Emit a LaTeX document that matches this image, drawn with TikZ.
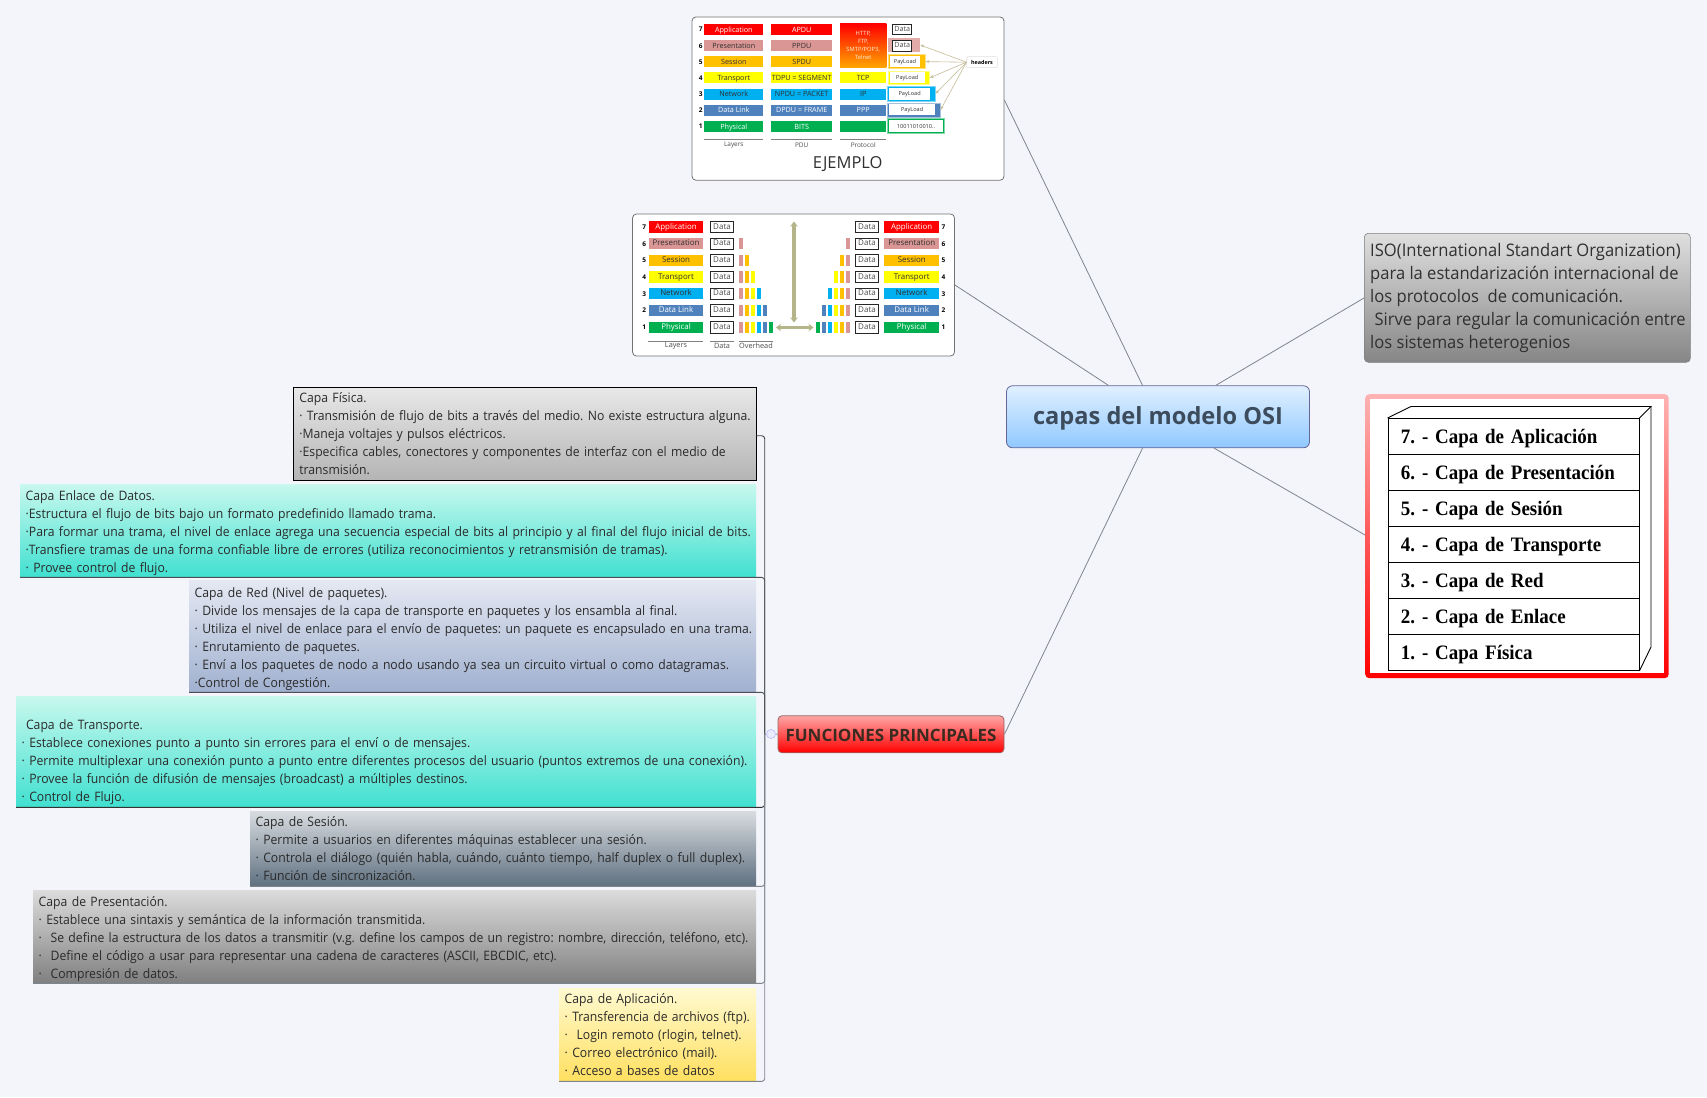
\documentclass[tikz,border=0pt]{standalone}
\usepackage{fontspec}
\setmainfont{Open Sans}
\newfontfamily\bodyf[FakeStretch=0.9385]{Open Sans}
\newfontfamily\isof[FakeStretch=0.958]{Open Sans}
\newfontfamily\stackf[FakeStretch=0.925]{Liberation Serif}
\usetikzlibrary{calc,arrows.meta}
\definecolor{pagebg}{HTML}{F3F5FA}
\definecolor{lred}{HTML}{FF0000}
\definecolor{lpink}{HTML}{D99694}
\definecolor{lorange}{HTML}{FFC000}
\definecolor{lyellow}{HTML}{FFFF00}
\definecolor{lblue}{HTML}{00B0F0}
\definecolor{lsteel}{HTML}{4F81BD}
\definecolor{lgreen}{HTML}{00B050}
\definecolor{ldark}{HTML}{303030}
\definecolor{ltan}{HTML}{C4BD97}
\definecolor{fattan}{HTML}{B5B58A}
\definecolor{wire}{HTML}{7F858C}
\definecolor{ink}{HTML}{2A2A2A}
\definecolor{roottxt}{HTML}{3C4C5C}
\definecolor{funtxt}{HTML}{3A2A20}
\definecolor{roottop}{HTML}{E0F0FF}
\definecolor{rootbot}{HTML}{90C8FF}
\definecolor{tealtop}{HTML}{C8F8EE}
\definecolor{tealbot}{HTML}{40E0D0}
\definecolor{redtop}{HTML}{E4E8F2}
\definecolor{redbot}{HTML}{A0B0CF}
\definecolor{sestop}{HTML}{D8DCE0}
\definecolor{sesbot}{HTML}{5F7080}
\definecolor{fistop}{HTML}{E8E8E8}
\definecolor{fisbot}{HTML}{B4B4B4}
\definecolor{pretop}{HTML}{DCDCDC}
\definecolor{prebot}{HTML}{808080}
\definecolor{apltop}{HTML}{FFF9D0}
\definecolor{aplbot}{HTML}{FFE060}
\definecolor{protobot}{HTML}{FFA500}
\frenchspacing
\tikzset{
  imgbox/.style={draw=gray!90!black,fill=white,rounded corners=4,line width=0.8,inner sep=0},
  cell/.style={inner sep=0,font=\fontsize{7.2}{8}\selectfont,align=center,text height=5.4,text depth=1.4},
  cella/.style={cell,text height=5.9,text depth=0.9},
  cellb/.style={cell,font=\fontsize{7.9}{8}\selectfont},
  databox/.style={cell,fill=white,draw=black!85,line width=0.7,minimum width=23.4,minimum height=11.3,font=\fontsize{8}{8}\selectfont,text=black!70},
  rowlabel/.style={inner sep=0,font=\bfseries\fontsize{6.5}{7}\selectfont},
  caption/.style={inner sep=0,font=\fontsize{6.4}{7}\selectfont,text=black!70},
  captionb/.style={caption,font=\fontsize{7.3}{8}\selectfont},
  wirel/.style={draw=wire,line width=0.8},
  textbox/.style={shade,inner xsep=0,inner ysep=0,anchor=north west,align=left,font=\bodyf\fontsize{13}{18}\selectfont,text=ink},
  stackrow/.style={draw=black,line width=0.9,fill=white,minimum height=36,text width=225,inner xsep=13,inner ysep=0,align=left,font=\stackf\bfseries\fontsize{20.5}{22}\selectfont,text height=16.5,text depth=2.5,anchor=north west},
  trunk/.style={line width=0.9,rounded corners=3},
  thinarrow/.style={draw=ltan,line width=0.6,-{Stealth[length=4,width=3]}},
  fatarrow/.style={draw=fattan,line width=3.2,{Stealth[length=5,width=7.5]}-{Stealth[length=5,width=7.5]}},
}
% name, x1, y1, x2, y2, top colour, bottom colour, text
\newcommand{\tbox}[8]{\pgfmathsetmacro\bh{#5-#3}\pgfmathsetmacro\tw{#4-#2}%
  \node[textbox,top color=#6,bottom color=#7,minimum height=\bh,text width=\tw] (#1) at (#2,#3) {\leftskip=5.5pt\rightskip=0pt plus 1fil\relax #8\par};}
\begin{document}
\begin{tikzpicture}[x=1pt,y=-1pt]
\fill[pagebg] (0,0) rectangle (1707,1097);
\useasboundingbox (0,0) rectangle (1707,1097);

% ---------- image 1
\node[imgbox,minimum width=312,minimum height=163.3] (ejemplo) at (848,98.6) {};
\foreach \i/\lab/\pdu/\col/\tc/\y in {7/Application/APDU/lred/white/29.6,6/Presentation/PPDU/lpink/ldark/45.9,5/Session/SPDU/lorange/ldark/61.9,4/Transport/TDPU = SEGMENT/lyellow/ldark/77.9,3/Network/NPDU = PACKET/lblue/ldark/94.3,2/Data Link/DPDU = FRAME/lsteel/white/110.3,1/Physical/BITS/lgreen/white/126.6}{
  \node[rowlabel] (ean\i) at (700.7,\y) {\i};
  \node[cella,fill=\col,text=\tc,minimum width=59,minimum height=11] (eal\i) at (733.8,\y) {\lab};
  \node[cella,fill=\col,text=\tc,minimum width=61.3,minimum height=11] (eap\i) at (801.7,\y) {\pdu};
}
\node[inner sep=0,align=center,top color=lred,bottom color=protobot,minimum width=46.3,minimum height=43.4,text=white!85!orange,font=\fontsize{5.8}{8.3}\selectfont] (eaproto) at (863.2,45.5) {HTTP,\\FTP,\\SMTP/POP3,\\Telnet};
\foreach \i/\lab/\col/\tc/\y in {4/TCP/lyellow/ldark/77.9,3/IP/lblue/ldark/94.3,2/PPP/lsteel/white/110.3,1/{}/lgreen/white/126.6}{
  \node[cella,fill=\col,text=\tc,minimum width=46.3,minimum height=11] (eat\i) at (863.2,\y) {\lab};
}
\foreach \n/\a/\b in {cl/704.3/763.3,cp/771/832.3,ct/840/886.3}{
  \coordinate (\n a) at (\a,139.5); \coordinate (\n b) at (\b,139.5);
  \draw[gray,line width=0.6] (\n a) -- (\n b);
}
\node[caption] (capl) at (733.8,145) {Layers};
\node[caption] (capp) at (801.7,145) {PDU};
\node[caption] (capt) at (863.2,145) {Protocol};
\node[inner sep=0,font=\fontsize{16.5}{18}\selectfont,text=ldark] (ejtxt) at (847.7,164.5) {EJEMPLO};
% stacks on the right
\node[databox,minimum width=19,minimum height=10.3,font=\fontsize{7.2}{8}\selectfont] (ed7) at (902.2,29.5) {Data};
\node[cell,fill=lpink!80,minimum width=31.7,minimum height=14.7] (eg6) at (904.2,45) {};
\node[databox,minimum width=19,minimum height=10.7,font=\fontsize{7.2}{8}\selectfont] (ed6) at (902.2,45.6) {Data};
\foreach \i/\col/\gx/\gw/\gy/\gh/\wx/\wr/\lab in {5/lorange/906.7/36.7/61.6/14/890/920/PayLoad,4/lyellow/908.8/41/77.8/13.6/889.5/925/PayLoad,3/lblue/911.2/47.7/93.7/14.7/889.3/930/PayLoad,2/lsteel/913.7/52.7/110/14/889.3/935/PayLoad,1/lgreen/915.7/56.7/126.1/15/889.3/942.7/10011010010..}{
  \node[cell,fill=\col,draw=\col!50,line width=0.8,minimum width=\gw,minimum height=\gh] (eg\i) at (\gx,\gy) {};
  \pgfmathsetmacro\wc{(\wx+\wr)/2}\pgfmathsetmacro\ww{\wr-\wx}
  \node[cell,fill=white,minimum width=\ww,minimum height=\gh-3,font=\fontsize{5.6}{6}\selectfont,text=black!80] (ew\i) at (\wc,\gy) {\lab};
}
\node[cell,fill=white,draw=black!12,line width=0.5,rounded corners=1,minimum width=30.6,minimum height=11,font=\bfseries\fontsize{5.4}{6}\selectfont] (headers) at (982,62.2) {headers};
\foreach \i in {6,5,4,3,2}{ \draw[thinarrow] (headers.west) -- (eg\i.east); }

% ---------- image 2
\node[imgbox,minimum width=322,minimum height=142] (stacks) at (793.5,285) {};
\foreach \i/\lab/\col/\tc/\y in {7/Application/lred/white/227,6/Presentation/lpink/ldark/243.7,5/Session/lorange/ldark/260.3,4/Transport/lyellow/ldark/277,3/Network/lblue/ldark/293.7,2/Data Link/lsteel/white/310.3,1/Physical/lgreen/white/327.3}{
  \node[rowlabel] (ln\i) at (644.3,\y) {\i};
  \node[cellb,fill=\col,text=\tc,minimum width=54.6,minimum height=11.5] (ll\i) at (676,\y) {\lab};
  \node[databox] (ld\i) at (722,\y) {Data};
  \node[databox] (rd\i) at (867,\y) {Data};
  \node[cellb,fill=\col,text=\tc,minimum width=54.6,minimum height=11.5] (rl\i) at (911.7,\y) {\lab};
  \node[rowlabel] (rn\i) at (943.5,\y) {\i};
}
\foreach \r/\y/\k in {6/243.7/1,5/260.3/2,4/277/3,3/293.7/4,2/310.3/5,1/327.3/6}{
  \foreach \b/\col in {1/lpink,2/lorange,3/lyellow,4/lblue,5/lsteel,6/lgreen}{
    \ifnum\b>\k\else
      \pgfmathsetmacro\bl{741+6*(\b-1)}\pgfmathsetmacro\br{848.3-6*(\b-1)}
      \node[cell,fill=\col,minimum width=3.7,minimum height=11.3] (bl\r\b) at (\bl,\y) {};
      \node[cell,fill=\col,minimum width=3.7,minimum height=11.3] (br\r\b) at (\br,\y) {};
    \fi
  }
}
\coordinate (vtop) at (794,221.5); \coordinate (vbot) at (794,322.5);
\draw[fatarrow] (vtop) -- (vbot);
\coordinate (hl) at (776,327.5); \coordinate (hr) at (813.5,327.5);
\draw[fatarrow] (hl) -- (hr);
\foreach \n/\a/\b in {sa/648.3/703,sb/710.3/733.7,sc/739.3/772.7}{
  \coordinate (\n a) at (\a,341); \coordinate (\n b) at (\b,341);
  \draw[gray,line width=0.6] (\n a) -- (\n b);
}
\node[captionb] (s1) at (676,345.5) {Layers};
\node[captionb] (s2) at (722,345.5) {Data};
\node[captionb] (s3) at (756,345.5) {Overhead};

% ---------- central node and branches
\node[top color=roottop,bottom color=rootbot,draw=gray!80!blue,rounded corners=6,line width=0.8,minimum width=303,minimum height=62,inner sep=0,text=roottxt,text height=19,text depth=3,font=\bfseries\fontsize{23.6}{28}\selectfont] (root) at (1158,416.8) {capas del modelo OSI};

\node[top color=gray!25,bottom color=gray!95,draw=gray,rounded corners=4,line width=0.6,anchor=north west,minimum width=326,minimum height=129,inner sep=0] (iso) at (1364,233) {};
\node[inner sep=0,anchor=north west,align=left,text=ldark,font=\isof\fontsize{17.3}{23}\selectfont] (isotxt) at (1370,243.5) {ISO(International Standart Organization)\\para la estandarización internacional de\\los protocolos\ \ de comunicación.\\\ Sirve para regular la comunicación entre\\los sistemas heterogenios};

\node[top color=red!30,bottom color=red,rounded corners=4,anchor=north west,minimum width=303.5,minimum height=284,inner sep=0] (stackbox) at (1365,394) {};
\node[fill=white,anchor=north west,minimum width=294.6,minimum height=273.7,inner sep=0] (stackin) at (1369.4,399) {};
\foreach \i/\lab/\y in {7/7. - Capa de Aplicación/418,6/6. - Capa de Presentación/454,5/5. - Capa de Sesión/490,4/4. - Capa de Transporte/526,3/3. - Capa de Red/562,2/2. - Capa de Enlace/598,1/1. - Capa Física/634}{
  \node[stackrow] (row\i) at (1387.5,\y) {\lab};
}
\coordinate (backl) at (1411,406.5); \coordinate (backr) at (1651,406.5); \coordinate (backb) at (1651,647);
\draw[black,line width=0.9] (row7.north west) -- (backl) -- (backr) -- (row7.north east);
\draw[black,line width=0.9] (backr) -- (backb) -- (row1.south east);

\node[top color=red!35,bottom color=red,draw=gray!80!red,rounded corners=4,line width=0.8,minimum width=226,minimum height=37,inner sep=0,text=funtxt,text height=15.5,text depth=1,font=\bfseries\fontsize{17}{20}\selectfont] (fun) at (891,734.3) {FUNCIONES PRINCIPALES};

\draw[wirel] ($(root.north west)!0.449!(root.north east)$) -- (ejemplo.east |- 0,100);
\draw[wirel] ($(root.north west)!0.337!(root.north east)$) -- (stacks.east |- 0,285);
\draw[wirel] ($(root.north west)!0.69!(root.north east)$) -- (iso.west |- 0,298);
\draw[wirel] ($(root.south west)!0.685!(root.south east)$) -- (stackbox.west |- 0,535);
\draw[wirel] ($(root.south west)!0.449!(root.south east)$) -- (fun.east);

% ---------- text boxes
\tbox{fisica}{293.7}{387}{756}{480}{fistop}{fisbot}{Capa Física.\\· Transmisión de flujo de bits a través del medio. No existe estructura alguna.\\·Maneja voltajes y pulsos eléctricos.\\·Especifica cables, conectores y componentes de interfaz con el medio de\\transmisión.}
\draw[black,line width=0.9] (fisica.south west) rectangle (fisica.north east);
\tbox{enlace}{20}{484}{756}{577}{tealtop}{tealbot}{\rule{0pt}{14pt}Capa Enlace de Datos.\\·Estructura el flujo de bits bajo un formato predefinido llamado trama.\\·Para formar una trama, el nivel de enlace agrega una secuencia especial de bits al principio y al final del flujo inicial de bits.\\·Transfiere tramas de una forma confiable libre de errores (utiliza reconocimientos y retransmisión de tramas).\\· Provee control de flujo.}
\tbox{red}{189}{580}{756}{692}{redtop}{redbot}{\rule{0pt}{16pt}Capa de Red (Nivel de paquetes).\\· Divide los mensajes de la capa de transporte en paquetes y los ensambla al final.\\· Utiliza el nivel de enlace para el envío de paquetes: un paquete es encapsulado en una trama.\\· Enrutamiento de paquetes.\\· Enví a los paquetes de nodo a nodo usando ya sea un circuito virtual o como datagramas.\\·Control de Congestión.}
\tbox{transporte}{16}{696}{756}{807}{tealtop}{tealbot}{\strut\\\ Capa de Transporte.\\· Establece conexiones punto a punto sin errores para el enví o de mensajes.\\· Permite multiplexar una conexión punto a punto entre diferentes procesos del usuario (puntos extremos de una conexión).\\· Provee la función de difusión de mensajes (broadcast) a múltiples destinos.\\· Control de Flujo.}
\tbox{sesion}{250}{811}{756}{886}{sestop}{sesbot}{Capa de Sesión.\\· Permite a usuarios en diferentes máquinas establecer una sesión.\\· Controla el diálogo (quién habla, cuándo, cuánto tiempo, half duplex o full duplex).\\· Función de sincronización.}
\tbox{presentacion}{33}{890}{756}{983}{pretop}{prebot}{\rule{0pt}{14pt}Capa de Presentación.\\· Establece una sintaxis y semántica de la información transmitida.\\·\ \ Se define la estructura de los datos a transmitir (v.g. define los campos de un registro: nombre, dirección, teléfono, etc).\\·\ \ Define el código a usar para representar una cadena de caracteres (ASCII, EBCDIC, etc).\\·\ \ Compresión de datos.}
\tbox{aplicacion}{559}{988}{756}{1081}{apltop}{aplbot}{Capa de Aplicación.\\· Transferencia de archivos (ftp).\\·\ \ Login remoto (rlogin, telnet).\\· Correo electrónico (mail).\\· Acceso a bases de datos}

% ---------- trunk
\coordinate (hub) at (764.7,734);
\node[circle,draw=blue!25,fill=blue!8,line width=0.7,minimum size=9,inner sep=0] (knob) at (771,734) {};
\draw[trunk,black!75] ($(fisica.east)+(0,2)$) -- ($(fisica.east -| hub)+(0,2)$) -- (hub);
\draw[trunk,wire!60!black] (enlace.south west) -- (enlace.south east) -- (enlace.south east -| hub) -- (hub);
\draw[trunk,wire!60!black] (red.south west) -- (red.south east) -- (red.south east -| hub) -- (hub);
\draw[trunk,black!80] (transporte.south west) -- (transporte.south east) -- (transporte.south east -| hub) -- (hub);
\draw[trunk,wire] (sesion.south west) -- (sesion.south east) -- (sesion.south east -| hub) -- (hub);
\draw[trunk,wire] (presentacion.south west) -- (presentacion.south east) -- (presentacion.south east -| hub) -- (hub);
\draw[trunk,wire] (aplicacion.south west) -- (aplicacion.south east) -- (aplicacion.south east -| hub) -- (hub);
\draw[wire,line width=0.8] (hub) -- (knob.west);
\draw[wire,line width=0.8] (knob.east) -- (fun.west);
\end{tikzpicture}
\end{document}
